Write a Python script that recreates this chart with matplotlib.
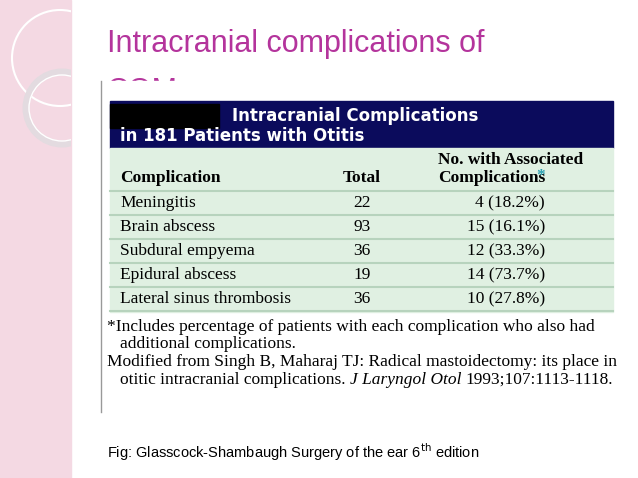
import matplotlib
matplotlib.use("Agg")
import matplotlib.pyplot as plt
from matplotlib.patches import Rectangle, Circle

# table content
complications = ["Meningitis", "Brain abscess", "Subdural empyema",
                 "Epidural abscess", "Lateral sinus thrombosis"]
totals = [22, 93, 36, 19, 36]
assoc = [4, 15, 12, 14, 10]
assoc_pct = [18.2, 16.1, 33.3, 73.7, 27.8]

title = "Intracranial complications of"
caption = "Fig: Glasscock-Shambaugh Surgery of the ear 6$^{\\mathrm{th}}$ edition"

fig = plt.figure(figsize=(6.38, 4.78), dpi=100)
ax = fig.add_axes([0, 0, 1, 1])
ax.set_xlim(0, 638)
ax.set_ylim(478, 0)
ax.axis("off")

# left decoration strip
strip = Rectangle((0, 0), 71, 478, color="#f4d9e3", zorder=0)
ax.add_patch(strip)
c1 = Circle((60, 58), 48, fill=False, ec="white", lw=1.5, zorder=1)
c2 = Circle((62, 108), 36, fill=False, ec="#e3dbe0", lw=5, zorder=1)
c3 = Circle((62, 108), 33, fill=False, ec="white", lw=1, zorder=1)
for c in (c1, c2, c3):
    ax.add_patch(c)
    c.set_clip_path(strip)

magenta = "#b4349c"
ax.text(107, 44, title, color=magenta, fontsize=22, va="center", ha="left",
        family="Liberation Sans")
ax.text(107, 92, "COM", color=magenta, fontsize=22, va="center", ha="left",
        family="Liberation Sans", zorder=1)
ax.add_patch(Rectangle((101, 81), 537, 334, color="white", zorder=2))
ax.plot([101, 101], [81, 412], color="#999999", lw=1, zorder=3)

serif = "Liberation Serif"
# navy heading
ax.add_patch(Rectangle((110, 101), 503, 47, color="#0b0b5c", zorder=3))
ax.add_patch(Rectangle((110, 104), 109, 24, color="black", zorder=4))
ax.text(232, 116, "Intracranial Complications", color="white", fontsize=12,
        fontweight="bold", family="DejaVu Sans", va="center", zorder=5)
ax.text(120, 136, "in 181 Patients with Otitis", color="white", fontsize=12,
        fontweight="bold", family="DejaVu Sans", va="center", zorder=5)

# green body
fs = 12.5
ax.add_patch(Rectangle((110, 148), 503, 164, color="#e0f0e2", zorder=3))
ax.text(120, 178, "Complication", fontsize=fs, fontweight="bold", family=serif,
        va="center", zorder=5)
ax.text(362, 178, "Total", fontsize=fs, fontweight="bold", family=serif,
        va="center", ha="center", zorder=5)
ax.text(438, 160, "No. with Associated", fontsize=fs, fontweight="bold",
        family=serif, va="center", zorder=5)
ax.text(438, 178, "Complications", fontsize=fs, fontweight="bold",
        family=serif, va="center", zorder=5)
ax.text(536, 176, "*", fontsize=fs, fontweight="bold", family=serif,
        color="#2a9fb0", va="center", zorder=5)

row_h = 24
top = 191
for i, name in enumerate(complications):
    y = top + row_h * i
    ax.plot([110, 613], [y, y], color="#b7d3bd", lw=1.5, zorder=4)
    yc = y + row_h / 2
    ax.text(120, yc, name, fontsize=fs, family=serif, va="center", zorder=5)
    ax.text(362, yc, str(totals[i]), fontsize=fs, family=serif, va="center",
            ha="center", zorder=5)
    ax.text(545, yc, f"{assoc[i]} ({assoc_pct[i]:.1f}%)", fontsize=fs,
            family=serif, va="center", ha="right", zorder=5)
ax.plot([110, 613], [top + row_h * 5, top + row_h * 5], color="#b7d3bd",
        lw=1.5, zorder=4)

# footnotes
fn = dict(fontsize=12.5, family=serif, va="center", zorder=5)
ax.text(107, 327, "*Includes percentage of patients with each complication who also had", **fn)
ax.text(120, 344, "additional complications.", **fn)
ax.text(107, 362, "Modified from Singh B, Maharaj TJ: Radical mastoidectomy: its place in", **fn)
t1 = ax.text(120, 380, "otitic intracranial complications. ", **fn)
renderer = fig.canvas.get_renderer()
inv = ax.transData.inverted()
x2 = inv.transform(t1.get_window_extent(renderer).get_points())[1][0]
t2 = ax.text(x2, 380, "J Laryngol Otol ", style="italic", **fn)
x3 = inv.transform(t2.get_window_extent(renderer).get_points())[1][0]
ax.text(x3, 380, "1993;107:1113-1118.", **fn)

ax.text(107, 452, caption, fontsize=10.5, family="Liberation Sans", va="center")

fig.savefig("out.png", dpi=100)
